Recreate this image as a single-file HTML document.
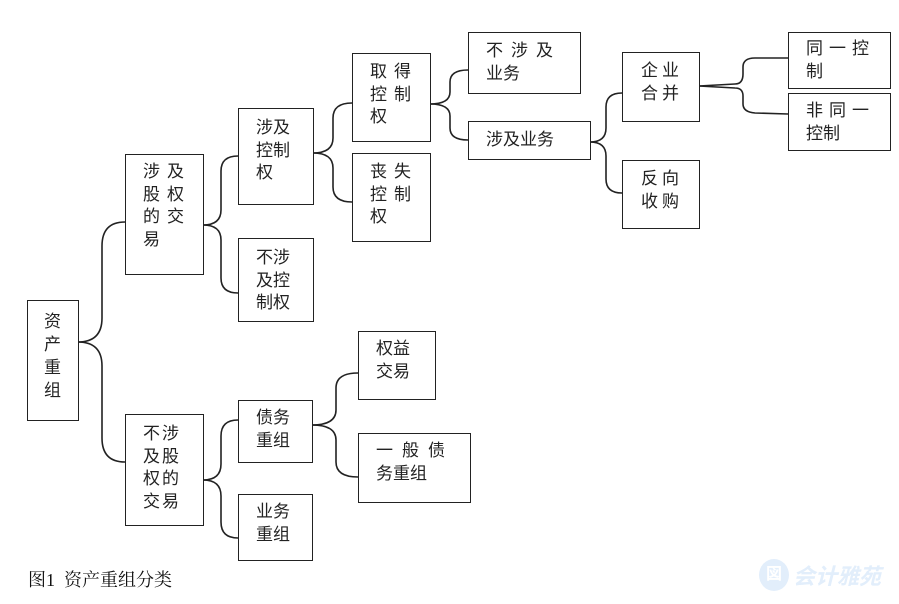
<!DOCTYPE html>
<html><head><meta charset="utf-8">
<style>
body{margin:0;background:#fff;}
#c{position:relative;width:899px;height:604px;overflow:hidden;background:#fff;font-family:"Liberation Sans","Noto Sans CJK SC",sans-serif;color:#222;}
.b{position:absolute;border:1.5px solid #222;box-sizing:border-box;background:#fff;}
.t{position:absolute;font-size:17px;line-height:22.5px;white-space:pre;color:#222;}
svg{position:absolute;left:0;top:0;}
</style></head><body><div id="c">
<svg width="899" height="604" fill="none" stroke="#222" stroke-width="1.6">
<path d="M78 342 Q102 342 102 318 L102 246 Q102 222 125 222"/>
<path d="M78 342 Q102 342 102 366 L102 438 Q102 462 125 462"/>
<path d="M203 225 Q221 225 221 210 L221 171 Q221 156 238 156"/>
<path d="M203 225 Q221 225 221 240 L221 278 Q221 293 238 293"/>
<path d="M313 153 Q333 153 333 138 L333 118 Q333 103 352 103"/>
<path d="M313 153 Q333 153 333 168 L333 187 Q333 202 352 202"/>
<path d="M430 104 Q450 104 450 92 L450 82 Q450 70 468 70"/>
<path d="M430 104 Q450 104 450 116 L450 128 Q450 140 468 140"/>
<path d="M590 142 Q606 142 606 128 L606 107 Q606 93 622 93"/>
<path d="M590 142 Q606 142 606 156 L606 179 Q606 193 622 193"/>
<path d="M699 86 L735 84 Q743 84 743 74 L743 67 Q743 58 755 58 L788 58"/>
<path d="M699 86 L735 88 Q743 88 743 96 L743 104 Q743 112 755 113 L788 114"/>
<path d="M203 480 Q221 480 221 464 L221 436 Q221 420 238 420"/>
<path d="M203 480 Q221 480 221 496 L221 522 Q221 538 238 538"/>
<path d="M312 425 Q336 425 336 410 L336 388 Q336 373 358 373"/>
<path d="M312 425 Q336 425 336 440 L336 462 Q336 477 358 477"/>
</svg>

<div class="b" style="left:27px;top:300px;width:52px;height:121px"></div>
<div class="t" style="left:44px;top:310px;line-height:23px">资
产
重
组</div>

<div class="b" style="left:125px;top:154px;width:79px;height:121px"></div>
<div class="t" style="left:143px;top:161px;letter-spacing:7px">涉及
股权
的交
易</div>

<div class="b" style="left:125px;top:414px;width:79px;height:112px"></div>
<div class="t" style="left:143px;top:423px;letter-spacing:2px">不涉
及股
权的
交易</div>

<div class="b" style="left:238px;top:108px;width:76px;height:97px"></div>
<div class="t" style="left:256px;top:117px">涉及
控制
权</div>

<div class="b" style="left:238px;top:238px;width:76px;height:84px"></div>
<div class="t" style="left:256px;top:247px">不涉
及控
制权</div>

<div class="b" style="left:352px;top:53px;width:79px;height:89px"></div>
<div class="t" style="left:370px;top:61px;letter-spacing:7px">取得
控制
权</div>

<div class="b" style="left:352px;top:153px;width:79px;height:89px"></div>
<div class="t" style="left:370px;top:161px;letter-spacing:7px">丧失
控制
权</div>

<div class="b" style="left:468px;top:32px;width:113px;height:62px"></div>
<div class="t" style="left:486px;top:40px;letter-spacing:8px">不涉及
<span style="letter-spacing:0">业务</span></div>

<div class="b" style="left:468px;top:121px;width:123px;height:39px"></div>
<div class="t" style="left:486px;top:129px">涉及业务</div>

<div class="b" style="left:622px;top:52px;width:78px;height:70px"></div>
<div class="t" style="left:641px;top:60px;letter-spacing:4px">企业
合并</div>

<div class="b" style="left:622px;top:160px;width:78px;height:69px"></div>
<div class="t" style="left:641px;top:168px;letter-spacing:4px">反向
收购</div>

<div class="b" style="left:788px;top:32px;width:103px;height:57px"></div>
<div class="t" style="left:806px;top:38px;letter-spacing:6px">同一控
<span style="letter-spacing:0">制</span></div>

<div class="b" style="left:788px;top:93px;width:103px;height:58px"></div>
<div class="t" style="left:806px;top:100px;letter-spacing:6px">非同一
<span style="letter-spacing:0">控制</span></div>

<div class="b" style="left:238px;top:400px;width:75px;height:63px"></div>
<div class="t" style="left:256px;top:407px">债务
重组</div>

<div class="b" style="left:238px;top:494px;width:75px;height:67px"></div>
<div class="t" style="left:256px;top:501px">业务
重组</div>

<div class="b" style="left:358px;top:331px;width:78px;height:69px"></div>
<div class="t" style="left:376px;top:338px">权益
交易</div>

<div class="b" style="left:358px;top:433px;width:113px;height:70px"></div>
<div class="t" style="left:376px;top:440px;letter-spacing:9px">一般债
<span style="letter-spacing:0">务重组</span></div>

<div style="position:absolute;left:28px;top:566px;font-family:'Liberation Serif','Noto Serif CJK SC',serif;font-size:18px;color:#111;white-space:pre">图1  资产重组分类</div>

<div style="position:absolute;left:759px;top:559px;width:30px;height:32px;border-radius:50%;background:#e2eefb;color:#fff;font-size:16px;font-weight:bold;text-align:center;line-height:32px">図</div>
<div style="position:absolute;left:793px;top:559px;font-size:22px;font-weight:bold;color:#e2eefb;font-style:italic;font-family:'Noto Sans CJK SC',sans-serif;line-height:32px">会计雅苑</div>
</div></body></html>
